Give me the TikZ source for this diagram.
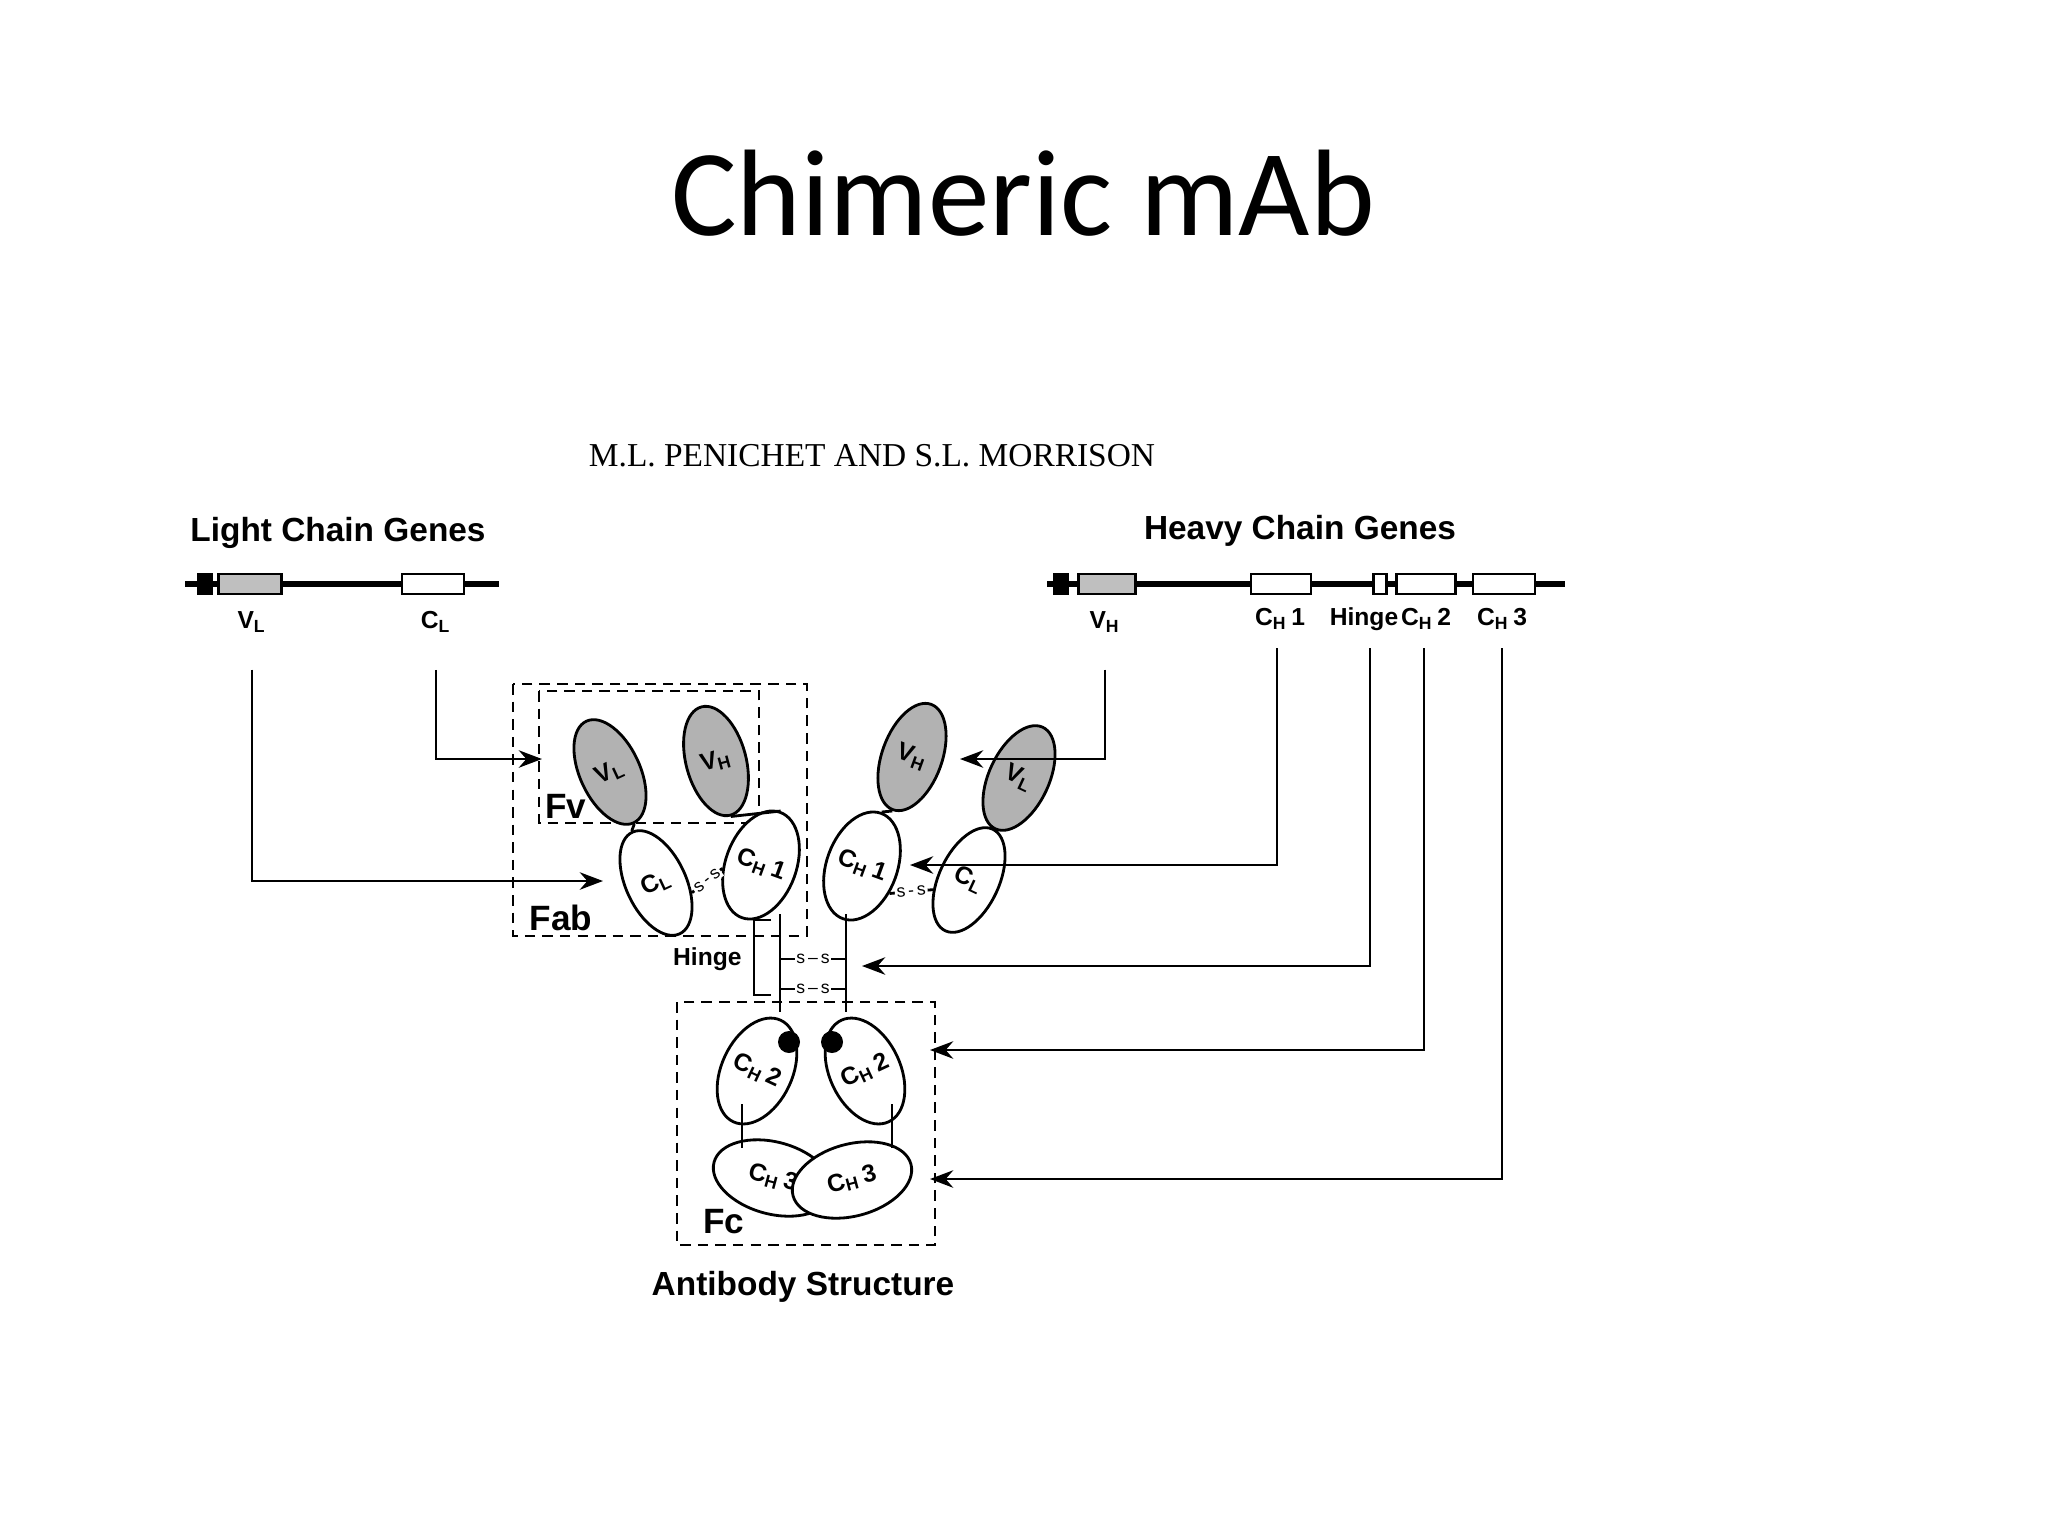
\documentclass[tikz,border=0pt]{standalone}
\usepackage{fontspec}
\setmainfont{Liberation Serif}
\setsansfont{Liberation Sans}
\newfontfamily\titlefont{Carlito}
\usetikzlibrary{positioning,arrows.meta,calc,shapes.geometric}

\begin{document}
\begin{tikzpicture}[x=0.01cm, y=-0.01cm,
            % domains of the antibody
            dom/.style={ellipse, draw, thick, fill=white, minimum width=0.6cm, minimum height=1.12cm, inner sep=0pt, font=\sffamily\bfseries\scriptsize},
            var/.style={dom, fill=gray!60},
            wide/.style={dom, minimum width=1.22cm, minimum height=0.72cm},
            % exons on the gene line
            exon/.style={draw, thick, fill=white, minimum height=0.2cm, inner sep=0pt},
            glab/.style={font=\sffamily\bfseries\scriptsize},
            box/.style={draw, thick, densely dashed},
            arr/.style={->, thick, >=Stealth},
            ss/.style={font=\sffamily\tiny, fill=white, inner sep=0.5pt}
        ]
            \useasboundingbox (0,0) rectangle (2048,1536);

            % --- titles ---
            \node[font=\titlefont\fontsize{35}{38}\selectfont] (title) at (1023,193) {Chimeric mAb};
            \node[font=\rmfamily\fontsize{9.5}{11}\selectfont] (author) at (872,456) {M.L. PENICHET AND S.L. MORRISON};
            \node[font=\sffamily\bfseries\fontsize{9.5}{11}\selectfont] (lgenes) at (338,533) {Light Chain Genes};
            \node[font=\sffamily\bfseries\fontsize{9.5}{11}\selectfont] (hgenes) at (1300,531) {Heavy Chain Genes};

            % --- light chain gene ---
            \draw[ultra thick] (185,584) -- (499,584);
            \node[exon, fill=black, minimum width=0.14cm] (lLead) at (205,584) {};
            \node[exon, fill=gray!50, minimum width=0.63cm] (gVL) at (250,584) {};
            \node[exon, minimum width=0.62cm] (gCL) at (433,584) {};
            \node[glab] (tVL) at (252,622) {V\textsubscript{L}};
            \node[glab] (tCL) at (436,622) {C\textsubscript{L}};

            % --- heavy chain gene ---
            \draw[ultra thick] (1047,584) -- (1565,584);
            \node[exon, fill=black, minimum width=0.14cm] (hLead) at (1061,584) {};
            \node[exon, fill=gray!50, minimum width=0.57cm] (gVH) at (1107,584) {};
            \node[exon, minimum width=0.6cm] (gCH1) at (1281,584) {};
            \node[exon, minimum width=0.13cm] (gHinge) at (1380,584) {};
            \node[exon, minimum width=0.59cm] (gCH2) at (1426,584) {};
            \node[exon, minimum width=0.62cm] (gCH3) at (1504,584) {};
            \node[glab] (tVH) at (1105,622) {V\textsubscript{H}};
            \node[glab] (tCH1) at (1280,619) {C\textsubscript{H}\,1};
            \node[glab] (tHinge) at (1364,619) {Hinge};
            \node[glab] (tCH2) at (1426,619) {C\textsubscript{H}\,2};
            \node[glab] (tCH3) at (1502,619) {C\textsubscript{H}\,3};

            % --- dashed regions ---
            \draw[box] (513,684) rectangle (807,936);
            \draw[box] (539,691) rectangle (759,823);
            \draw[box] (677,1002) rectangle (935,1245);
            \node[font=\sffamily\bfseries\normalsize] (fv) at (566,806) {Fv};
            \node[font=\sffamily\bfseries\normalsize] (fab) at (561,918) {Fab};
            \node[font=\sffamily\bfseries\normalsize] (fc) at (724,1222) {Fc};
            \node[font=\sffamily\bfseries\fontsize{9.5}{11}\selectfont] (abs) at (803,1287) {Antibody Structure};

            % --- left arm ---
            \node[var, rotate=25] (lVL) at (610,772) {V\textsubscript{L}};
            \node[var, rotate=15] (lVH) at (716,761) {V\textsubscript{H}};
            \node[dom, rotate=25] (lCL) at (656,883) {C\textsubscript{L}};
            \node[dom, rotate=-20] (lCH1) at (761,865) {C\textsubscript{H}\,1};
            \draw[thick] (lVL.south) -- (lCL.north);
            \draw[thick] (lVH.south) -- (lCH1.north);
            \draw[thick] (lCL.-40) -- node[ss, sloped] {s\,-\,s} (lCH1.205);

            % --- right arm ---
            \node[var, rotate=-20] (rVH) at (912,757) {V\textsubscript{H}};
            \node[var, rotate=-25] (rVL) at (1019,778) {V\textsubscript{L}};
            \node[dom, rotate=-20] (rCH1) at (862,866) {C\textsubscript{H}\,1};
            \node[dom, rotate=-25] (rCL) at (969,880) {C\textsubscript{L}};
            \draw[thick] (rVH.south) -- (rCH1.north);
            \draw[thick] (rVL.south) -- (rCL.north);
            \draw[thick] (rCH1.-25) -- node[ss, sloped] {s\,-\,s} (rCL.220);

            % --- hinge ---
            \coordinate (lTop) at (780,914);
            \coordinate (lBot) at (780,1012);
            \coordinate (rTop) at (846,914);
            \coordinate (rBot) at (846,1012);
            \draw[thick] (lTop) -- (lBot);
            \draw[thick] (rTop) -- (rBot);
            \draw[thick] (780,959) -- node[ss] {s\,--\,s} (846,959);
            \draw[thick] (780,989) -- node[ss] {s\,--\,s} (846,989);
            \draw[thick] (771,920) -- (754,920) -- (754,995) -- (771,995);
            \node[font=\sffamily\bfseries\scriptsize, left] (hingeLab) at (754,959) {Hinge};

            % --- Fc part ---
            \node[dom, rotate=-25] (lCH2) at (757,1071) {C\textsubscript{H}\,2};
            \node[dom, rotate=25] (rCH2) at (865,1071) {C\textsubscript{H}\,2};
            \node[wide, rotate=-15] (lCH3) at (773,1178) {C\textsubscript{H}\,3};
            \node[wide, rotate=15] (rCH3) at (852,1180) {C\textsubscript{H}\,3};
            \fill (789,1042) circle (11);
            \fill (832,1042) circle (11);
            \coordinate (lLinkA) at (742,1104);
            \coordinate (lLinkB) at (742,1148);
            \coordinate (rLinkA) at (892,1104);
            \coordinate (rLinkB) at (892,1148);
            \draw[thick] (lLinkA) -- (lLinkB);
            \draw[thick] (rLinkA) -- (rLinkB);

            % --- arrows from genes to domains ---
            \coordinate (aVL) at (603,881);
            \coordinate (aCL) at (542,759);
            \coordinate (aVH) at (960,759);
            \coordinate (aCH1) at (910,865);
            \coordinate (aHinge) at (862,966);
            \coordinate (aCH2) at (930,1050);
            \coordinate (aCH3) at (930,1179);
            \draw[arr] ([yshift=-0.25cm]tVL.south) |- (aVL);
            \draw[arr] ([yshift=-0.25cm]tCL.south) |- (aCL);
            \draw[arr] ([yshift=-0.25cm]tVH.south) |- (aVH);
            \draw[arr] (1277,648) |- (aCH1);
            \draw[arr] (1370,648) |- (aHinge);
            \draw[arr] (1424,648) |- (aCH2);
            \draw[arr] (1502,648) |- (aCH3);

        \end{tikzpicture}
\end{document}
